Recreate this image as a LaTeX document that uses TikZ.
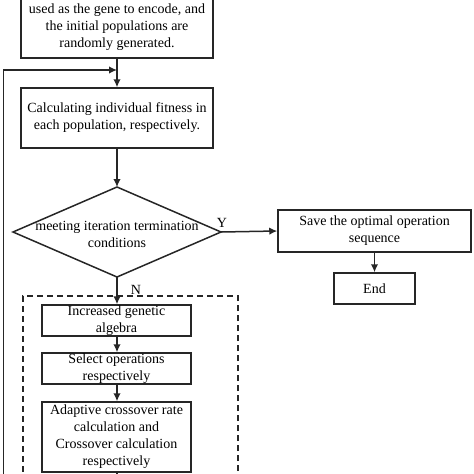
\documentclass[tikz,border=0pt]{standalone}
\usepackage{fontspec}
\setmainfont{Liberation Serif}
\usetikzlibrary{shapes.geometric,arrows.meta}
\begin{document}
\begin{tikzpicture}[x=1pt,y=-1pt,
  every node/.style={font=\fontsize{14}{17}\selectfont, text=black, align=center},
  box/.style={draw=black!85, line width=1.5pt, inner sep=0pt},
  arr/.style={draw=black!85, line width=1.5pt, -{Latex[length=8pt,width=7.5pt]}},
  ln/.style={draw=black!85, line width=1.5pt}]
\useasboundingbox (0,0) rectangle (474,474);
\clip (0,0) rectangle (474,474);
% boxes
\node[box, minimum width=192pt, minimum height=80pt] (init) at (117,18) {};
\node (initt) at (117,27.5) {used as the gene to encode, and\\the initial populations are\\randomly generated.};
\node[box, minimum width=192pt, minimum height=60pt] (fit) at (117,118) {Calculating individual fitness in\\each population, respectively.};
\node[diamond, draw=black!85, line width=1.5pt, minimum width=208pt, minimum height=90pt, inner sep=0pt, outer sep=0pt] (dec) at (117,232) {};
\node (dect) at (117,234) {meeting iteration termination\\conditions};
\node[box, minimum width=193pt, minimum height=42pt] (save) at (374.5,231) {Save the optimal operation\\sequence};
\node[box, minimum width=81pt, minimum height=31pt] (end) at (374.5,288.5) {End};
\node[draw=black!85, line width=1.2pt, dash pattern=on 6pt off 4pt, minimum width=215pt, minimum height=200pt, inner sep=0pt] (grp) at (130.5,396) {};
\node[box, minimum width=149pt, minimum height=31pt] (inc) at (116.5,320.5) {Increased genetic\\algebra};
\node[box, minimum width=149pt, minimum height=31pt] (sel) at (116.5,368.5) {Select operations\\respectively};
\node[box, minimum width=149pt, minimum height=70pt] (ada) at (116.5,437) {Adaptive crossover rate\\calculation and\\Crossover calculation\\respectively};
% coordinates
\coordinate (loopb) at (3.5,480);
\coordinate (loopt) at (3.5,70);
\coordinate (join) at (117,70);
\coordinate (adab) at (117,490);
% connectors
\draw[arr] (init.south) -- (fit.north);
\draw[arr] (loopb) -- (loopt) -- (join);
\draw[arr] (fit.south) -- (dec.north);
\draw[arr] (dec.east) -- (save.west);
\node (ylab) at (222,223) {Y};
\draw[arr] (save.south) -- (end.north);
\draw[arr] (dec.south) -- (dec.south |- inc.north);
\node (nlab) at (136,290) {N};
\draw[arr] (inc.south -| dec.south) -- (sel.north -| dec.south);
\draw[arr] (sel.south -| dec.south) -- (ada.north -| dec.south);
\draw[ln] (ada.south -| dec.south) -- (adab);
\end{tikzpicture}
\end{document}
